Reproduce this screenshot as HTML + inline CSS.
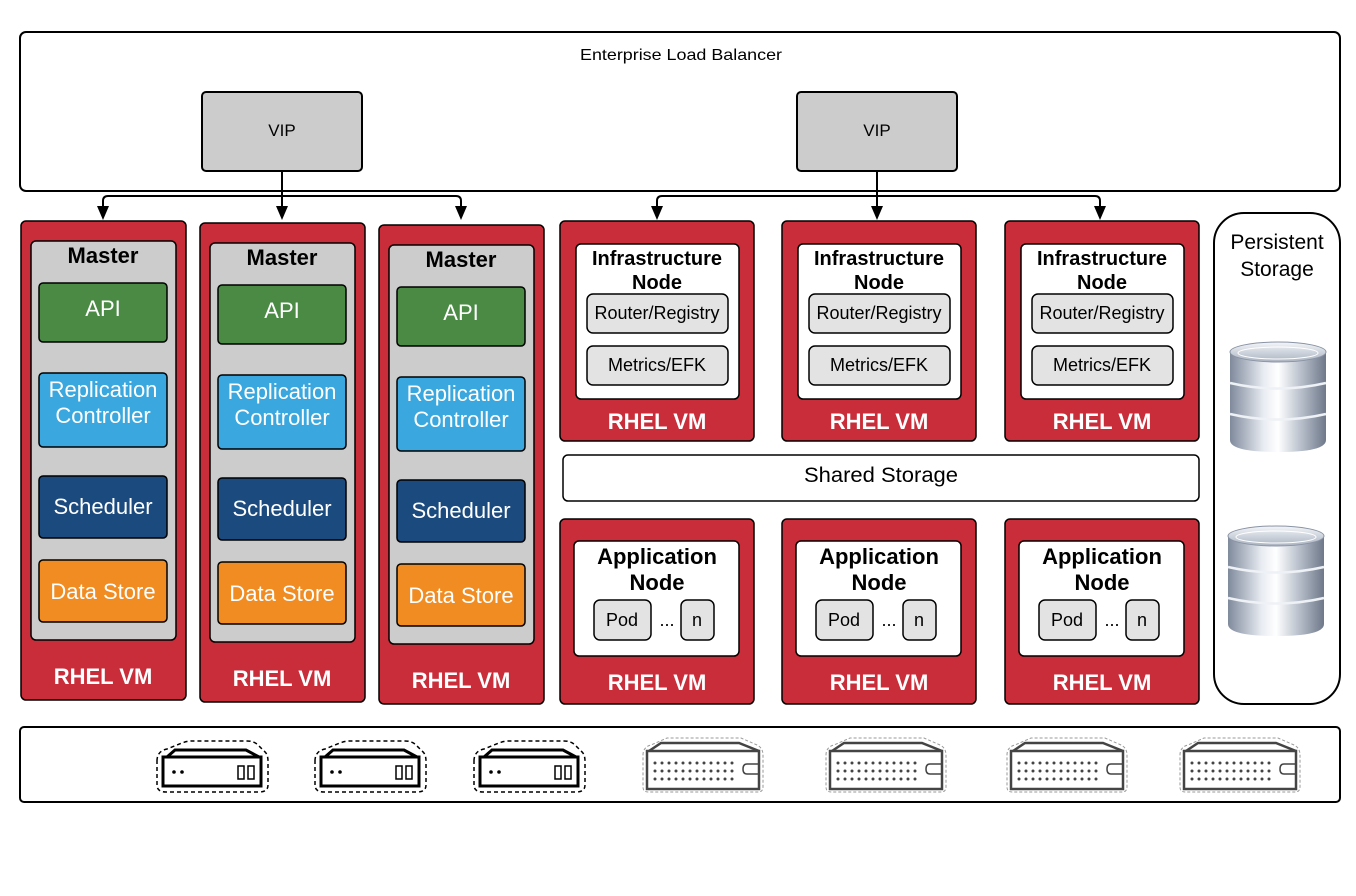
<!DOCTYPE html>
<html><head><meta charset="utf-8"><style>
html,body{margin:0;padding:0;background:#fff}
svg{display:block}
text{font-family:"Liberation Sans",Arial,sans-serif}
</style></head><body>
<svg width="1356" height="896" viewBox="0 0 1356 896" xmlns="http://www.w3.org/2000/svg">
<defs>
<linearGradient id="cyl" x1="0" x2="1" y1="0" y2="0">
<stop offset="0" stop-color="#7f8a9c"/><stop offset="0.35" stop-color="#e8ecf2"/><stop offset="0.5" stop-color="#ffffff"/><stop offset="0.75" stop-color="#b5bdc9"/><stop offset="1" stop-color="#6e7889"/>
</linearGradient>
<linearGradient id="cyltop" x1="0" x2="0" y1="0" y2="1">
<stop offset="0" stop-color="#f4f6f9"/><stop offset="1" stop-color="#aab3c1"/>
</linearGradient>
<g id="bsrv">
<path d="M-55,-22 Q-55,-32 -45,-34 L-30,-40 Q-25,-42 -20,-42 L35,-42 Q42,-42 46,-38 L52,-32 Q56,-29 56,-22 L56,2 Q56,9 47,9 L-46,9 Q-55,9 -55,2 Z" fill="none" stroke="#000" stroke-width="1.5" stroke-dasharray="4,3"/>
<path d="M-45,-26 L-37,-33 L34,-33 L47,-26" fill="none" stroke="#000" stroke-width="3"/>
<rect x="-49" y="-26" width="98" height="29" fill="#fff" stroke="#000" stroke-width="3"/>
<circle cx="-38" cy="-11" r="1.8"/><circle cx="-30" cy="-11" r="1.8"/>
<rect x="26" y="-17" width="6" height="13" fill="none" stroke="#000" stroke-width="1.5"/>
<rect x="36" y="-17" width="6" height="13" fill="none" stroke="#000" stroke-width="1.5"/>
</g>
<g id="drow"><circle cx="-48" cy="0" r="1.5"/><circle cx="-41" cy="0" r="1.5"/><circle cx="-34" cy="0" r="1.5"/><circle cx="-27" cy="0" r="1.5"/><circle cx="-20" cy="0" r="1.5"/><circle cx="-13" cy="0" r="1.5"/><circle cx="-6" cy="0" r="1.5"/><circle cx="1" cy="0" r="1.5"/><circle cx="8" cy="0" r="1.5"/><circle cx="15" cy="0" r="1.5"/><circle cx="22" cy="0" r="1.5"/><circle cx="29" cy="0" r="1.5"/></g>
<g id="gsrv">
<path d="M-60,-18 Q-60,-26 -52,-28 L-36,-35 L38,-35 L54,-28 Q60,-25 60,-18 L60,14 Q60,19 55,19 L-55,19 Q-60,19 -60,14 Z" fill="none" stroke="#999" stroke-width="1" stroke-dasharray="3,2"/>
<path d="M-54,-22 L-42,-30 L36,-30 L56,-22" fill="none" stroke="#444" stroke-width="2.5"/>
<rect x="-56" y="-22" width="112" height="38" fill="#fff" stroke="#444" stroke-width="2.5"/>
<use href="#drow" y="-10" fill="#444"/><use href="#drow" y="-2" fill="#444"/><use href="#drow" y="6" fill="#444"/>
<path d="M56,-9 L44,-9 Q40,-9 40,-4 Q40,1 44,1 L56,1" fill="none" stroke="#444" stroke-width="1.5"/>
</g>
<g id="db">
<path d="M-48,0 L-48,88 Q-48,100 0,100 Q48,100 48,88 L48,0 Z" fill="url(#cyl)"/>
<ellipse cx="0" cy="0" rx="48" ry="10" fill="url(#cyltop)" stroke="#8a94a4" stroke-width="1"/>
<ellipse cx="0" cy="1" rx="40" ry="6" fill="none" stroke="#fff" stroke-width="1"/>
<path d="M-48,31 Q0,42 48,31" fill="none" stroke="#eef1f5" stroke-width="2.5"/>
<path d="M-48,62 Q0,73 48,62" fill="none" stroke="#eef1f5" stroke-width="2.5"/>
</g>
</defs>

<rect x="20" y="32" width="1320" height="159" rx="6" fill="#fff" stroke="#000" stroke-width="2"/>
<text x="681" y="60" font-size="16" text-anchor="middle" textLength="202" lengthAdjust="spacingAndGlyphs">Enterprise Load Balancer</text>
<rect x="202" y="92" width="160" height="79" rx="4" fill="#ccc" stroke="#000" stroke-width="2"/>
<text x="282" y="136" font-size="17" text-anchor="middle">VIP</text>
<rect x="797" y="92" width="160" height="79" rx="4" fill="#ccc" stroke="#000" stroke-width="2"/>
<text x="877" y="136" font-size="17" text-anchor="middle">VIP</text>

<g stroke="#000" stroke-width="2" fill="none">
<path d="M282,171 L282,210"/>
<path d="M103,208 L103,201 Q103,196 108,196 L456,196 Q461,196 461,201 L461,208"/>
<path d="M877,171 L877,210"/>
<path d="M657,208 L657,201 Q657,196 662,196 L1095,196 Q1100,196 1100,201 L1100,208"/>
</g>
<g fill="#000">
<path d="M97,206 L109,206 L103,220 Z"/><path d="M276,206 L288,206 L282,220 Z"/><path d="M455,206 L467,206 L461,220 Z"/>
<path d="M651,206 L663,206 L657,220 Z"/><path d="M871,206 L883,206 L877,220 Z"/><path d="M1094,206 L1106,206 L1100,220 Z"/>
</g>

<g id="m1">
<rect x="21" y="221" width="165" height="479" rx="5" fill="#c92d39" stroke="#000" stroke-width="1.5"/>
<rect x="31" y="241" width="145" height="399" rx="5" fill="#ccc" stroke="#000" stroke-width="1.5"/>
<text x="103" y="263" font-size="22" font-weight="bold" text-anchor="middle">Master</text>
<rect x="39" y="283" width="128" height="59" rx="4" fill="#4a8a45" stroke="#000" stroke-width="1.5"/>
<text x="103" y="316" font-size="22" fill="#fff" text-anchor="middle">API</text>
<rect x="39" y="373" width="128" height="74" rx="4" fill="#3aa7de" stroke="#000" stroke-width="1.5"/>
<text x="103" y="397" font-size="22" fill="#fff" text-anchor="middle">Replication</text>
<text x="103" y="423" font-size="22" fill="#fff" text-anchor="middle">Controller</text>
<rect x="39" y="476" width="128" height="62" rx="4" fill="#1b4a7e" stroke="#000" stroke-width="1.5"/>
<text x="103" y="514" font-size="22" fill="#fff" text-anchor="middle">Scheduler</text>
<rect x="39" y="560" width="128" height="62" rx="4" fill="#f08c21" stroke="#000" stroke-width="1.5"/>
<text x="103" y="599" font-size="22" fill="#fff" text-anchor="middle">Data Store</text>
<text x="103" y="684" font-size="22" font-weight="bold" fill="#fff" text-anchor="middle">RHEL VM</text>
</g>
<use href="#m1" transform="translate(179,2)"/>
<use href="#m1" transform="translate(358,4)"/>

<g id="inf">
<rect x="560" y="221" width="194" height="220" rx="5" fill="#c92d39" stroke="#000" stroke-width="1.5"/>
<rect x="576" y="244" width="163" height="155" rx="5" fill="#fff" stroke="#000" stroke-width="1.5"/>
<text x="657" y="265" font-size="20" font-weight="bold" text-anchor="middle">Infrastructure</text>
<text x="657" y="289" font-size="20" font-weight="bold" text-anchor="middle">Node</text>
<rect x="587" y="294" width="141" height="39" rx="6" fill="#e3e3e3" stroke="#000" stroke-width="1.5"/>
<text x="657" y="319" font-size="18" text-anchor="middle">Router/Registry</text>
<rect x="587" y="346" width="141" height="39" rx="6" fill="#e3e3e3" stroke="#000" stroke-width="1.5"/>
<text x="657" y="371" font-size="18" text-anchor="middle">Metrics/EFK</text>
<text x="657" y="429" font-size="22" font-weight="bold" fill="#fff" text-anchor="middle">RHEL VM</text>
</g>
<use href="#inf" transform="translate(222,0)"/>
<use href="#inf" transform="translate(445,0)"/>

<rect x="563" y="455" width="636" height="46" rx="5" fill="#fff" stroke="#000" stroke-width="1.5"/>
<text x="881" y="482" font-size="21" text-anchor="middle" textLength="154" lengthAdjust="spacingAndGlyphs">Shared Storage</text>

<g id="app">
<rect x="560" y="519" width="194" height="185" rx="5" fill="#c92d39" stroke="#000" stroke-width="1.5"/>
<rect x="574" y="541" width="165" height="115" rx="5" fill="#fff" stroke="#000" stroke-width="1.5"/>
<text x="657" y="564" font-size="22" font-weight="bold" text-anchor="middle">Application</text>
<text x="657" y="590" font-size="22" font-weight="bold" text-anchor="middle">Node</text>
<rect x="594" y="600" width="57" height="40" rx="6" fill="#e3e3e3" stroke="#000" stroke-width="1.5"/>
<text x="622" y="626" font-size="18" text-anchor="middle">Pod</text>
<text x="667" y="626" font-size="18" text-anchor="middle">...</text>
<rect x="681" y="600" width="33" height="40" rx="6" fill="#e3e3e3" stroke="#000" stroke-width="1.5"/>
<text x="697" y="626" font-size="18" text-anchor="middle">n</text>
<text x="657" y="690" font-size="22" font-weight="bold" fill="#fff" text-anchor="middle">RHEL VM</text>
</g>
<use href="#app" transform="translate(222,0)"/>
<use href="#app" transform="translate(445,0)"/>

<rect x="1214" y="213" width="126" height="491" rx="30" fill="#fff" stroke="#000" stroke-width="2"/>
<text x="1277" y="249" font-size="21" text-anchor="middle">Persistent</text>
<text x="1277" y="276" font-size="21" text-anchor="middle">Storage</text>
<use href="#db" transform="translate(1278,352)"/>
<use href="#db" transform="translate(1276,536)"/>

<rect x="20" y="727" width="1320" height="75" rx="4" fill="#fff" stroke="#000" stroke-width="2"/>
<use href="#bsrv" transform="translate(212,783)"/>
<use href="#bsrv" transform="translate(370,783)"/>
<use href="#bsrv" transform="translate(529,783)"/>
<use href="#gsrv" transform="translate(703,773)"/>
<use href="#gsrv" transform="translate(886,773)"/>
<use href="#gsrv" transform="translate(1067,773)"/>
<use href="#gsrv" transform="translate(1240,773)"/>
</svg>
</body></html>
